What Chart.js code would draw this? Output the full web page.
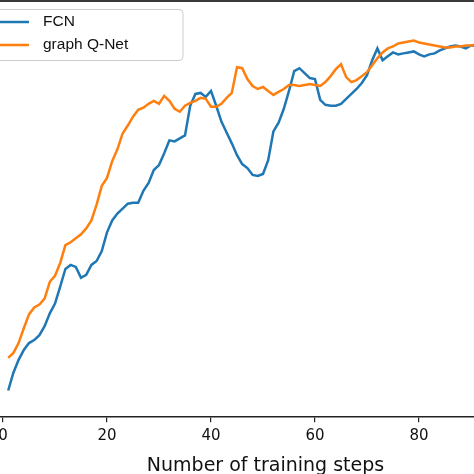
<!DOCTYPE html>
<html>
<head>
<meta charset="utf-8">
<script src="https://cdn.jsdelivr.net/npm/chart.js@4"></script>
<style>
  html, body { margin: 0; padding: 0; background: #fff; overflow: hidden; width: 474px; height: 474px; }
  #wrap { position: relative; width: 474px; height: 474px; overflow: hidden; }
  #topbar { position: absolute; left: 0; top: 0; width: 474px; height: 2px; background: #3a3a3a; }
  canvas { position: absolute; left: 0; top: 0; }
</style>
</head>
<body>
<div id="wrap">
  <canvas id="chart" width="531" height="481"></canvas>
  <div id="topbar"></div>
</div>
<script>
// training steps
const steps = [];
for (let i = 1; i <= 91; i++) steps.push(i);

// score (arbitrary units, no y ticks visible)
const fcnScores = [
  27, 45, 58, 68, 75, 78, 83, 92, 105, 115,
  132, 150, 154, 152, 141, 144, 154, 158, 168, 187,
  199, 206, 211, 216, 217, 217, 229, 237, 250, 255,
  267, 280, 279, 282, 285, 315, 327, 328, 324, 330,
  315, 299, 288, 277, 265, 256, 252, 245, 244, 246,
  260, 289, 298, 312, 330, 350, 353, 348, 343, 342,
  321, 316, 315, 315, 317, 322, 327, 332, 338, 346,
  361, 373, 361, 365, 369, 367, 368, 369, 370, 367,
  365, 367, 368, 371, 373, 375, 376, 375, 373, 376,
  376
];

const qnetScores = [
  60, 65, 75, 90, 104, 111, 114, 120, 137, 143,
  156, 174, 177, 181, 185, 191, 199, 215, 234, 242,
  259, 271, 287, 295, 304, 311, 313, 317, 320, 317,
  325, 320, 312, 309, 315, 318, 320, 323, 322, 314,
  314, 317, 323, 328, 354, 353, 342, 335, 332, 334,
  330, 326, 329, 332, 336, 336, 335, 336, 337, 336,
  335, 339, 345, 352, 357, 344, 339, 341, 345, 349,
  356, 363, 369, 373, 375, 378, 379, 380, 381, 379,
  378, 377, 376, 375, 374, 374, 375, 375, 376, 376,
  377
];

const xTickStep = 20;
const seriesNames = ['FCN', 'graph Q-Net'];
const seriesColors = ['#1f77b4', '#ff7f0e'];

function toPoints(ys) {
  return steps.map((s, i) => ({ x: s, y: ys[i] }));
}

// legend box in the top-left, partly cut off like the reference
const legendPlugin = {
  id: 'cornerLegend',
  afterDraw(chart) {
    const ctx = chart.ctx;
    ctx.save();
    ctx.beginPath();
    ctx.roundRect(-10, 9.5, 193, 51, 4);
    ctx.fillStyle = 'rgba(255,255,255,0.85)';
    ctx.fill();
    ctx.strokeStyle = '#cccccc';
    ctx.lineWidth = 1;
    ctx.stroke();

    const rows = [22, 45];
    ctx.font = '15.5px "Liberation Sans", Arial, sans-serif';
    ctx.textBaseline = 'middle';
    rows.forEach((y, i) => {
      ctx.beginPath();
      ctx.moveTo(-5, y);
      ctx.lineTo(29, y);
      ctx.strokeStyle = seriesColors[i];
      ctx.lineWidth = 2.5;
      ctx.stroke();
      ctx.fillStyle = '#111';
      ctx.fillText(seriesNames[i], 43, y);
    });
    ctx.restore();
  }
};

new Chart(document.getElementById('chart'), {
  type: 'line',
  data: {
    datasets: [
      {
        label: seriesNames[0],
        data: toPoints(fcnScores),
        borderColor: seriesColors[0],
        borderWidth: 2.5,
        pointRadius: 0,
        tension: 0,
        order: 1
      },
      {
        label: seriesNames[1],
        data: toPoints(qnetScores),
        borderColor: seriesColors[1],
        borderWidth: 2.5,
        pointRadius: 0,
        tension: 0,
        order: 0
      }
    ]
  },
  options: {
    responsive: false,
    devicePixelRatio: 1,
    animation: false,
    layout: { padding: 0 },
    plugins: {
      legend: { display: false },
      tooltip: { enabled: false }
    },
    scales: {
      x: {
        type: 'linear',
        min: -0.577,
        max: 101.54,
        grid: {
          drawOnChartArea: false,
          drawTicks: true,
          tickLength: 5,
          color: '#222',
          lineWidth: 1.2
        },
        border: { display: true, color: '#222', width: 1.5 },
        ticks: {
          stepSize: xTickStep,
          includeBounds: false,
          padding: 5,
          color: '#111',
          font: { family: '"DejaVu Sans"', size: 15 }
        },
        title: {
          display: true,
          text: 'Number of training steps',
          color: '#111',
          font: { family: '"DejaVu Sans"', size: 19 },
          padding: { top: 4, bottom: 4 }
        },
        afterFit(scale) {
          scale.paddingLeft = 0;
          scale.paddingRight = 0;
        }
      },
      y: {
        display: false,
        min: 0,
        max: 422
      }
    }
  },
  plugins: [legendPlugin]
});
</script>
</body>
</html>
